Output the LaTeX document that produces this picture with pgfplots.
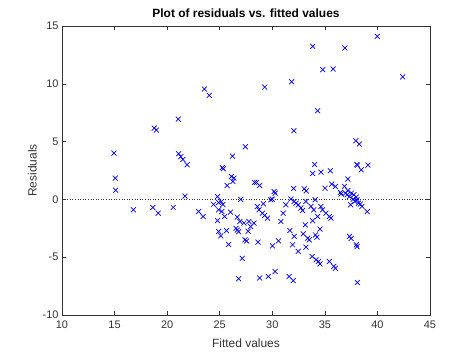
\documentclass[border=0pt]{standalone}
\usepackage{fontspec}
\setmainfont{Liberation Sans}
\usepackage{pgfplots}
\pgfplotsset{compat=1.18}
\begin{document}
\begin{tikzpicture}
\path[use as bounding box] (-62bp,-40bp) rectangle (412bp,315bp);
\begin{axis}[
  at={(0,0)}, anchor=south west,
  scale only axis, width=368bp, height=289bp,
  xmin=10, xmax=45, ymin=-10, ymax=15,
  xtick={10,15,...,45}, ytick={-10,-5,...,15},
  tick align=inside, xtick pos=both, ytick pos=both,
  major tick length=4bp,
  axis line style={black!80, line width=0.5bp},
  every tick/.style={black!80, line width=0.5bp},
  tick label style={font=\fontsize{11}{13}\selectfont, text=black!80},
  xticklabel style={yshift=-2bp},
  /pgf/number format/assume math mode=true,
  title={Plot of residuals vs. fitted values},
  title style={font=\fontsize{12}{14}\selectfont\bfseries, yshift=-1bp},
  xlabel={Fitted values}, ylabel={Residuals},
  label style={font=\fontsize{12}{14}\selectfont, text=black!80},
  xlabel style={yshift=-4bp},
  ylabel style={yshift=-1bp},
]
\addplot[black!80, dotted, line width=0.6bp, forget plot] coordinates {(10,0) (45,0)};
\addplot[blue, only marks, mark=x, mark size=3.5bp, mark options={line width=0.7bp}] table {
x y
14.94 4.0
15.07 1.84
15.1 0.8
16.79 -0.9
18.64 -0.7
19.15 -1.19
18.77 6.17
18.97 6.0
20.58 -0.7
21.06 6.95
21.1 3.95
21.3 3.7
21.5 3.45
21.9 3.0
21.7 0.28
23.0 -1.05
23.42 -1.48
23.55 9.55
24.0 9.0
24.41 -0.44
24.79 0.25
24.89 -0.27
25.15 -0.2
25.3 -0.45
24.89 -0.9
25.2 -1.05
25.46 -1.48
24.79 -1.83
26.03 -1.1
26.67 -1.54
26.92 -1.91
27.3 -2.05
27.78 -1.91
27.94 -2.35
24.9 -2.78
25.1 -3.15
25.65 -2.7
26.55 -2.5
26.67 -2.65
26.8 -2.8
27.7 -2.75
27.4 -3.5
27.56 -3.6
25.84 -3.9
27.15 -5.1
26.8 -6.87
25.25 2.75
25.35 2.65
26.22 3.75
27.44 4.55
26.1 1.98
26.35 1.84
26.25 1.55
25.7 1.2
27.0 0.0
28.3 1.47
28.49 1.47
28.8 1.2
30.17 0.68
30.27 0.54
32.03 0.95
33.04 0.92
33.23 0.74
35.02 0.97
35.66 1.32
36.0 1.12
29.86 -0.03
30.0 0.03
29.15 -0.38
28.58 -0.61
28.74 -0.9
29.06 -1.19
29.28 -1.39
29.54 -1.62
28.26 -2.05
28.64 -3.7
30.02 -4.02
30.59 -3.58
30.81 -1.91
31.03 -1.19
31.29 -0.47
31.77 0.03
32.08 -0.18
32.25 -0.32
32.47 -0.47
32.72 -0.75
32.88 -0.96
33.2 -0.18
33.68 -0.61
33.94 -0.9
34.07 -0.03
34.62 -0.61
34.78 -0.9
35.1 -1.19
35.43 -1.48
35.58 -1.62
31.67 -2.69
32.08 -3.2
31.93 -3.93
32.47 -4.5
32.95 -2.98
33.2 -4.13
33.37 -3.35
33.52 -3.5
34.1 -3.07
34.25 -3.27
34.54 -2.57
33.84 -1.85
33.14 -2.2
34.32 -1.48
33.78 -4.94
34.17 -5.23
34.38 -5.37
34.54 -5.58
35.43 -5.37
35.85 -5.8
36.0 -5.95
28.8 -6.8
29.63 -6.67
30.27 -6.24
31.6 -6.67
31.99 -7.02
38.1 -7.19
37.34 -3.2
37.5 -3.38
38.0 -3.93
38.06 -4.08
36.47 0.6
36.55 0.46
36.87 1.12
36.96 0.54
37.12 0.4
37.2 0.77
37.34 0.25
37.53 0.55
37.7 0.03
37.76 0.4
37.85 -0.18
37.99 0.2
38.06 -0.03
38.2 -0.32
37.45 -0.47
38.37 -0.41
38.53 -0.61
39.03 -1.05
37.19 1.76
34.03 3.02
33.84 2.24
34.64 2.36
35.53 2.48
38.05 3.02
38.1 2.95
38.46 2.56
39.1 2.97
37.95 5.07
38.27 4.79
32.06 5.94
34.32 7.67
29.28 9.72
31.84 10.18
34.8 11.22
35.78 11.28
33.84 13.24
36.9 13.1
39.99 14.1
42.4 10.6
};
\end{axis}
\end{tikzpicture}
\end{document}
